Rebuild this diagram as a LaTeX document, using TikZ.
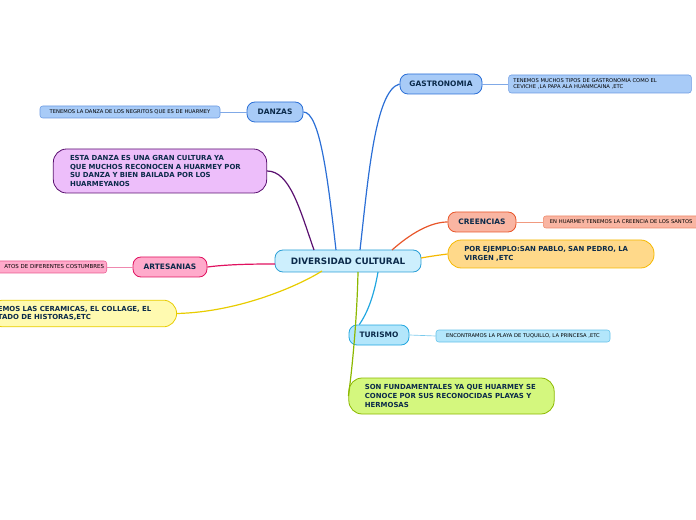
\documentclass[tikz,border=0pt]{standalone}
\usepackage{fontspec}
\setmainfont{DejaVu Sans}
\begin{document}
\begin{tikzpicture}[x=0.75pt,y=-0.75pt,
 topic/.style={draw,rounded corners=6pt,line width=0.6pt,font=\bfseries\fontsize{5.6}{6.5}\selectfont,inner sep=0pt,align=center},
 note/.style={draw,rounded corners=2pt,line width=0.4pt,font=\fontsize{3.9}{4.8}\selectfont,inner sep=0pt,align=left},
 big/.style={draw,rounded corners=10pt,line width=0.6pt,font=\bfseries\fontsize{5.2}{6.4}\selectfont,inner sep=0pt,align=left,text width=#1},
 link/.style={line width=0.9pt},
 thin/.style={line width=0.5pt}]
\useasboundingbox (0,0) rectangle (696,520);
\definecolor{cb}{HTML}{2A9FD6}\definecolor{cbf}{HTML}{CDEFFD}
\definecolor{db}{HTML}{2B6FD6}\definecolor{dbf}{HTML}{A8CBF7}
\definecolor{pu}{HTML}{5A1070}\definecolor{puf}{HTML}{EDBEFA}
\definecolor{pk}{HTML}{E0115F}\definecolor{pkf}{HTML}{FFAACB}
\definecolor{ye}{HTML}{E8CC00}\definecolor{yef}{HTML}{FFFAB0}
\definecolor{or}{HTML}{E8562A}\definecolor{orf}{HTML}{F9B5A2}
\definecolor{go}{HTML}{F5B800}\definecolor{gof}{HTML}{FFD98A}
\definecolor{tb}{HTML}{22A7E0}\definecolor{tbf}{HTML}{B3E6FB}
\definecolor{gr}{HTML}{8CB800}\definecolor{grf}{HTML}{D4F77E}
\definecolor{tx}{HTML}{0B2A4A}

\node[topic,draw=cb,fill=cbf,minimum width=109.5pt,minimum height=16.5pt,text=tx,font=\bfseries\fontsize{6.6}{7.5}\selectfont] (c) at (348,261) {DIVERSIDAD CULTURAL};

\node[topic,draw=db,fill=dbf,minimum width=61.5pt,minimum height=15pt,text=tx] (g) at (441,84) {GASTRONOMIA};
\node[note,draw=db!70,fill=dbf,minimum width=137pt,minimum height=13.5pt,text width=130pt] (gt) at (600,84) {TENEMOS MUCHOS TIPOS DE GASTRONOMIA COMO EL\\CEVICHE ,LA PAPA ALA HUANMCAINA ,ETC};

\node[topic,draw=db,fill=dbf,minimum width=42pt,minimum height=15pt,text=tx] (d) at (275,112) {DANZAS};
\node[note,draw=db!70,fill=dbf,minimum width=135pt,minimum height=9pt] (dt) at (130,112) {TENEMOS LA DANZA DE LOS NEGRITOS QUE ES DE HUARMEY};

\node[big=135pt,draw=pu,fill=puf,minimum width=160pt,minimum height=33pt,text=tx] (p) at (160,171) {ESTA DANZA ES UNA GRAN CULTURA YA\\QUE MUCHOS RECONOCEN A HUARMEY POR\\SU DANZA Y BIEN BAILADA POR LOS\\HUARMEYANOS};

\node[topic,draw=pk,fill=pkf,minimum width=55.5pt,minimum height=15pt,text=tx] (a) at (170,267) {ARTESANIAS};
\node[note,draw=pk!70,fill=pkf,minimum width=84pt,minimum height=9pt,anchor=east,align=right,text width=80pt,font=\fontsize{4.1}{5}\selectfont] (at) at (107,267) {ATOS DE DIFERENTES COSTUMBRES};

\node[big=136pt,draw=ye,fill=yef,minimum width=140pt,minimum height=20pt,text=tx,anchor=east] (y) at (177,313.5) {\hspace*{2pt}IEMOS LAS CERAMICAS, EL COLLAGE, EL\\\hspace*{2pt}ITADO DE HISTORAS,ETC};

\node[topic,draw=or,fill=orf,minimum width=51pt,minimum height=15pt,text=tx] (cr) at (482,222) {CREENCIAS};
\node[note,draw=or!70,fill=orf,minimum width=128pt,minimum height=9pt,anchor=west,text width=124pt] (crt) at (543,222) {\hspace*{3pt}EN HUARMEY TENEMOS LA CREENCIA DE LOS SANTOS};

\node[big=130pt,draw=go,fill=gof,minimum width=154.5pt,minimum height=21pt,text=tx] (e) at (551,254) {POR EJEMPLO:SAN PABLO, SAN PEDRO, LA\\VIRGEN ,ETC};

\node[topic,draw=tb,fill=tbf,minimum width=45pt,minimum height=15pt,text=tx] (t) at (379,335) {TURISMO};
\node[note,draw=tb!70,fill=tbf,minimum width=130.5pt,minimum height=9pt] (tt) at (523,336) {ENCONTRAMOS LA PLAYA DE TUQUILLO, LA PRINCESA ,ETC};

\node[big=130pt,draw=gr,fill=grf,minimum width=154pt,minimum height=27pt,text=tx] (s) at (451.5,396) {SON FUNDAMENTALES YA QUE HUARMEY SE\\CONOCE  POR SUS RECONOCIDAS PLAYAS Y\\HERMOSAS};

\draw[link,db] (360,250) .. controls (368,180) and (375,90) .. (g.west);
\draw[link,db] (336,250) .. controls (328,180) and (320,112) .. (d.east);
\draw[link,pu] (314,250) .. controls (300,210) and (290,171) .. (p.east);
\draw[link,pk] (a.east) .. controls (230,264) and (260,264) .. (275,264);
\draw[link,ye] (y.east) .. controls (240,312) and (300,285) .. (322,271);
\draw[link,or] (392,250) .. controls (410,234) and (430,222) .. (cr.west);
\draw[link,go] (421,258) .. controls (432,256) and (440,255) .. (e.west);
\draw[link,tb] (378,272) .. controls (374,295) and (368,312) .. ([xshift=8pt]t.north west);
\draw[link,gr] (358,272) .. controls (357,320) and (352,370) .. (s.west);
\draw[thin,db!60] (g.east) -- (gt.west);
\draw[thin,db!60] (d.west) -- (dt.east);
\draw[thin,pk!50] (a.west) -- (at.east);
\draw[thin,or!60] (cr.east) -- (crt.west);
\draw[thin,tb!60] (t.east) -- (tt.west);
\end{tikzpicture}
\end{document}
